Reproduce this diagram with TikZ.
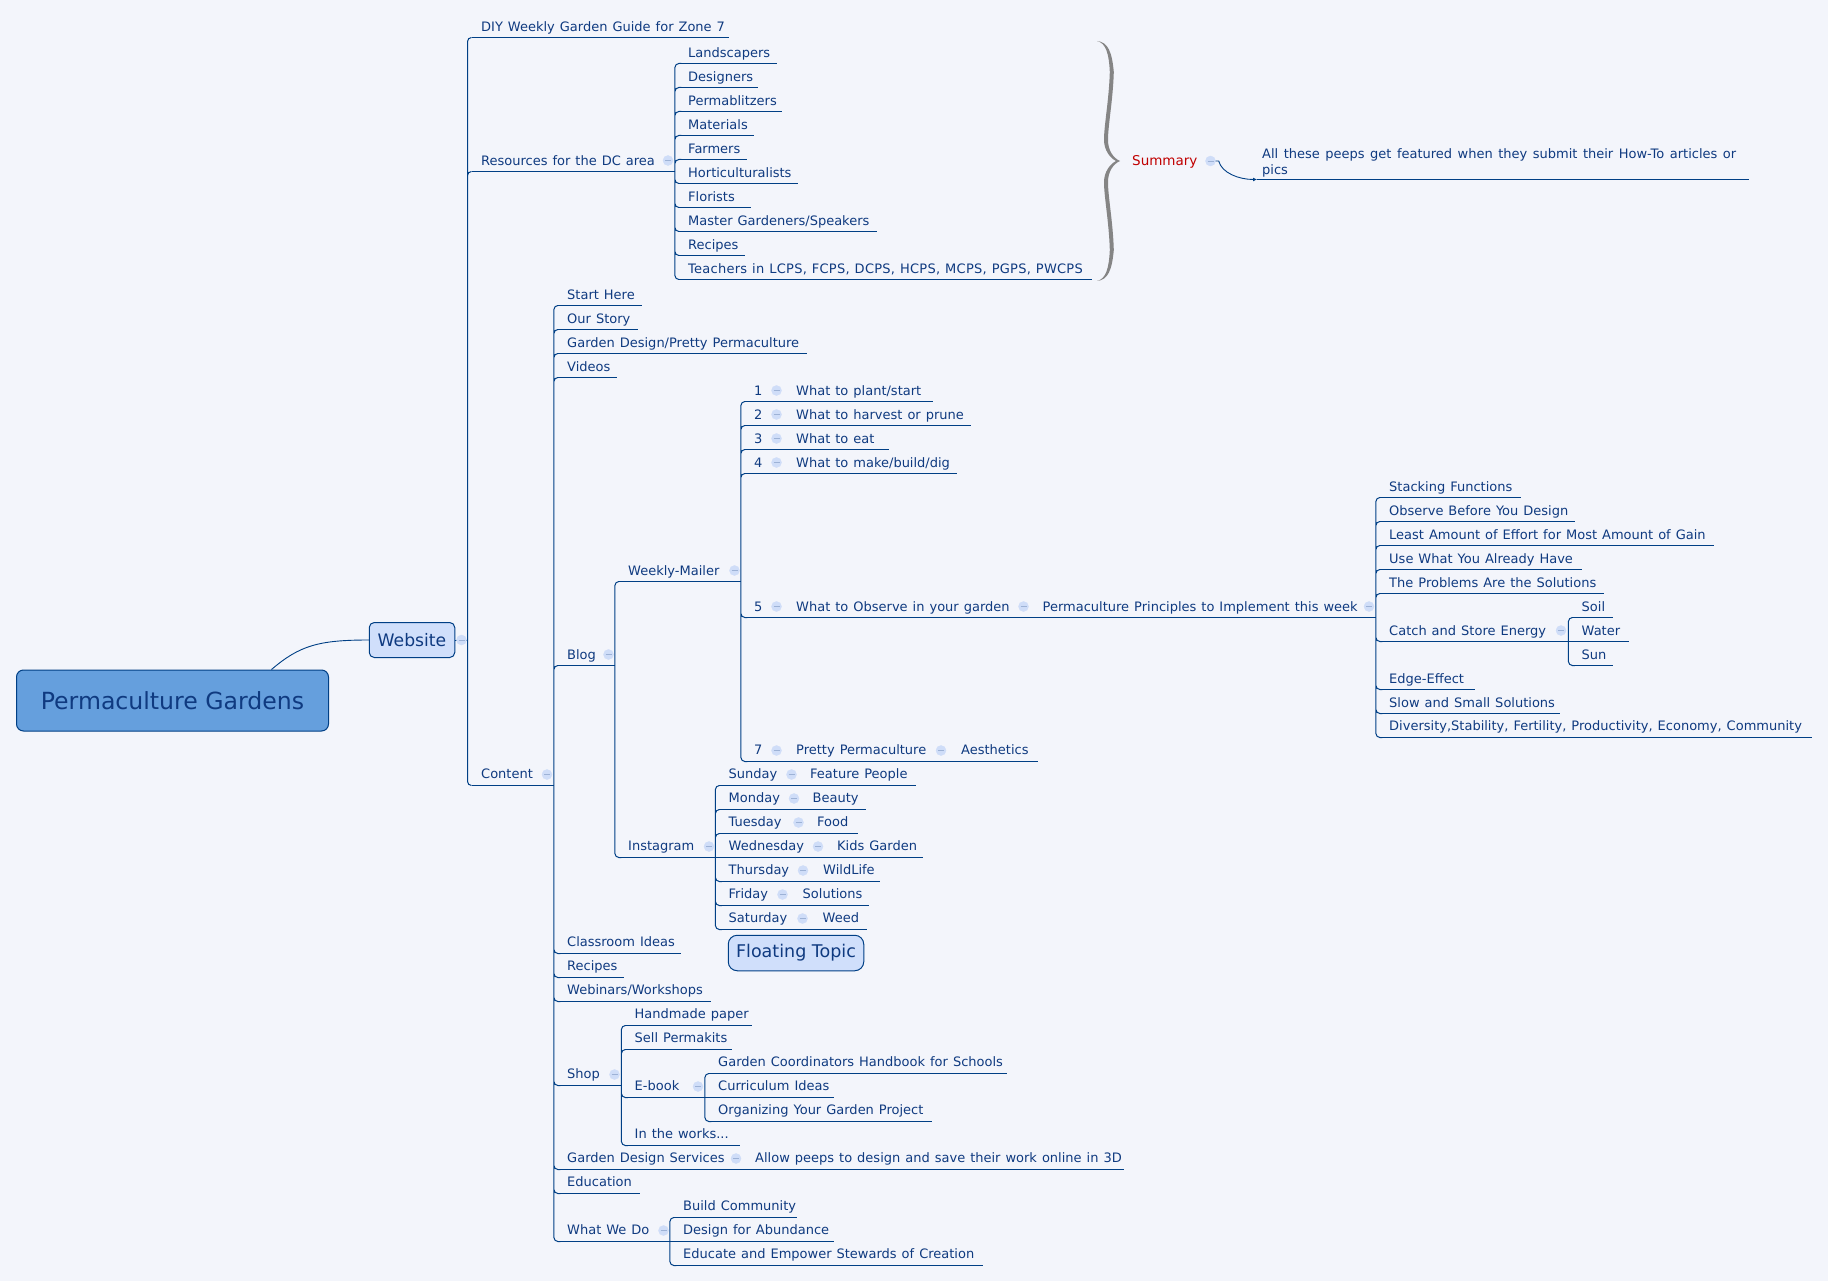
\documentclass[tikz,border=0pt]{standalone}
\usepackage{fontspec}
\setmainfont{DejaVu Sans}
\usetikzlibrary{arrows.meta}
\definecolor{bgc}{HTML}{F3F5FB}
\definecolor{linec}{HTML}{003F85}
\definecolor{textc}{HTML}{0F3A80}
\definecolor{rootc}{HTML}{659FDD}
\definecolor{subc}{HTML}{D0DFFB}
\definecolor{foldc}{HTML}{CFDDF8}
\definecolor{foldl}{HTML}{9DB2D6}
\definecolor{bracec}{HTML}{858585}
\definecolor{sumc}{HTML}{C00000}
\newcommand{\tpfont}{\fontsize{13}{16}\selectfont}
\tikzset{
  x=1pt,y=-1pt,
  tp/.style={inner xsep=0pt,inner ysep=5.6pt,anchor=south west,align=left,text=textc,text depth=0pt,
    font=\tpfont},
  notebox/.style={inner xsep=0pt,inner ysep=2.5pt,anchor=south west,align=left,text=textc,
    font=\tpfont},
  underl/.style={draw=linec,line width=1pt},
  conn/.style={draw=linec,line width=1pt},
  bigbox/.style={draw=linec,line width=1pt,text=textc,inner sep=0pt},
  fold/.style={circle,fill=foldc,draw=foldc,line width=.4pt,minimum size=10pt,inner sep=0pt,
    path picture={\draw[foldl,line width=.8pt] ([xshift=-3pt]path picture bounding box.center) -- ([xshift=3pt]path picture bounding box.center);}},
}
\newcommand{\tp}[5]{%
  \pgfmathsetlengthmacro{\tw}{(#3-#2)*1pt}%
  \ifdim #4pt>730pt\def\ys{6.8pt}\else\def\ys{5.6pt}\fi
  \node[tp,text width=\tw,inner ysep=\ys] (#1) at (#2,#4) {\spaceskip=5pt\relax\hspace*{13.5pt}\mbox{#5}};
  \draw[underl] ([xshift=4pt]#1.south west) -- (#1.south east);}
\newcommand{\cn}[2]{\draw[conn,rounded corners=4pt] foreach \kid in {#2} {(#1.south east) |- ([xshift=4pt]\kid.south west)};}
\newcommand{\cs}[2]{\draw[conn] (#1.south east) -- ([xshift=4pt]#2.south west);}
\newcommand{\fd}[3]{\node[fold] (#1) at (#2,#3-11) {};}
\begin{document}
\begin{tikzpicture}
\useasboundingbox (0,0) rectangle (1828,1281);
\fill[bgc] (0,0) rectangle (1828,1281);
% central
\node[bigbox,fill=rootc,rounded corners=7pt,minimum width=312pt,minimum height=61pt,font=\fontsize{23.6}{28}\selectfont] (root) at (172.5,700.5) {Permaculture Gardens};
\node[bigbox,fill=subc,rounded corners=5pt,minimum width=85.5pt,minimum height=35pt,font=\fontsize{17.2}{20}\selectfont] (website) at (412,640) {Website};
\node[bigbox,fill=subc,rounded corners=9pt,minimum width=135.5pt,minimum height=35.5pt,font=\fontsize{17.5}{20}\selectfont] (floating) at (796,953) {Floating Topic};
\draw[conn,line width=.9pt] ([xshift=99pt]root.north) .. controls +(28,-24) and +(-50,0) .. (website.west);
\coordinate (tone) at (467.5,640);
\draw[conn] (website.east) -- (tone);
% level 1
\tp{diy}{467.5}{729}{37.5}{DIY Weekly Garden Guide for Zone 7}
\tp{res}{467.5}{674.5}{171.5}{Resources for the DC area}
\tp{content}{467.5}{553.5}{785.5}{Content}
\cn{tone}{diy,res,content}
% resources
\tp{ra}{674.5}{776.5}{63.5}{Landscapers}
\tp{rb}{674.5}{757.5}{87.5}{Designers}
\tp{rc}{674.5}{781.5}{111.5}{Permablitzers}
\tp{rd}{674.5}{753.5}{135.5}{Materials}
\tp{re}{674.5}{746.5}{159.5}{Farmers}
\tp{rf}{674.5}{797.5}{183.5}{Horticulturalists}
\tp{rg}{674.5}{751}{207.5}{Florists}
\tp{rh}{674.5}{877}{231.5}{Master Gardeners/Speakers}
\tp{ri}{674.5}{745}{255.5}{Recipes}
\tp{rj}{674.5}{1092}{279.5}{\addfontfeatures{LetterSpace=2}Teachers in LCPS, FCPS, DCPS, HCPS, MCPS, PGPS, PWCPS}
\cn{res}{ra,rb,rc,rd,re,rf,rg,rh,ri,rj}
% summary
\fill[bracec] (1097,41) .. controls (1108,42) and (1112,52) .. (1113.8,72)
  .. controls (1113,100) and (1108,125) .. (1108,140) .. controls (1108,150) and (1113,158) .. (1120,161)
  .. controls (1113,164) and (1108,172) .. (1108,182) .. controls (1108,197) and (1113,222) .. (1113.8,250)
  .. controls (1112,270) and (1108,280) .. (1097,281)
  .. controls (1106,279) and (1109,268) .. (1109.8,250)
  .. controls (1109,222) and (1104,197) .. (1104,182) .. controls (1104,172) and (1110,164) .. (1116,161)
  .. controls (1110,158) and (1104,150) .. (1104,140) .. controls (1104,125) and (1109,100) .. (1109.8,72)
  .. controls (1109,54) and (1106,43) .. (1097,41) -- cycle;
\node[anchor=west,inner sep=0pt,text=sumc,font=\fontsize{13.5}{18}\selectfont] (summary) at (1132,162) {Summary};
\node[notebox,text width=491.5pt] (note) at (1257,179.5) {\spaceskip=5.5pt\relax\hspace*{5pt}All these peeps get featured when they submit their How-To articles or\\\hspace*{5pt}pics};
\draw[underl] (note.south west) -- (note.south east);
% content
\tp{ca}{553.5}{642}{305.5}{Start Here}
\tp{cb}{553.5}{638}{329.5}{Our Story}
\tp{cc}{553.5}{807}{353.5}{Garden Design/Pretty Permaculture}
\tp{cd}{553.5}{617}{377.5}{Videos}
\tp{blog}{553.5}{614.5}{665.5}{Blog}
\tp{ce}{553.5}{681}{953.5}{Classroom Ideas}
\tp{cf}{553.5}{624}{977.5}{Recipes}
\tp{cg}{553.5}{711}{1001.5}{Webinars/Workshops}
\tp{shop}{553.5}{621}{1085.5}{Shop}
\tp{gds}{553.5}{728}{1169.5}{Garden Design Services}
\tp{edu}{553.5}{640}{1193.5}{Education}
\tp{wwd}{553.5}{669.5}{1241.5}{What We Do}
\cn{content}{ca,cb,cc,cd,blog,ce,cf,cg,shop,gds,edu,wwd}
\tp{gdsa}{741.5}{1124}{1169.5}{Allow peeps to design and save their work online in 3D}
\cs{gds}{gdsa}
% blog
\tp{weekly}{614.5}{740.5}{581.5}{Weekly-Mailer}
\tp{insta}{614.5}{715}{857.5}{Instagram}
\cn{blog}{weekly,insta}
% weekly
\tp{wa}{740.5}{770}{401.5}{1}
\tp{wb}{740.5}{770}{425.5}{2}
\tp{wc}{740.5}{770}{449.5}{3}
\tp{wd}{740.5}{770}{473.5}{4}
\tp{we}{740.5}{770}{617.5}{5}
\tp{wg}{740.5}{770}{761.5}{7}
\cn{weekly}{wa,wb,wc,wd,we,wg}
\tp{waa}{782.5}{933}{401.5}{What to plant/start}
\tp{wba}{782.5}{971}{425.5}{What to harvest or prune}
\tp{wca}{782.5}{888.5}{449.5}{What to eat}
\tp{wda}{782.5}{957}{473.5}{What to make/build/dig}
\tp{wea}{782.5}{1015}{617.5}{What to Observe in your garden}
\tp{weaa}{1029}{1375.5}{617.5}{Permaculture Principles to Implement this week}
\tp{wga}{782.5}{935}{761.5}{Pretty Permaculture}
\tp{wgaa}{947.5}{1037.5}{761.5}{Aesthetics}
\cs{wa}{waa}\cs{wb}{wba}\cs{wc}{wca}\cs{wd}{wda}\cs{we}{wea}\cs{wea}{weaa}\cs{wg}{wga}\cs{wga}{wgaa}
% principles
\tp{pa}{1375.5}{1521}{497.5}{Stacking Functions}
\tp{pb}{1375.5}{1575}{521.5}{Observe Before You Design}
\tp{pc}{1375.5}{1714}{545.5}{Least Amount of Effort for Most Amount of Gain}
\tp{pd}{1375.5}{1582}{569.5}{Use What You Already Have}
\tp{pe}{1375.5}{1604}{593.5}{The Problems Are the Solutions}
\tp{pf}{1375.5}{1568}{641.5}{Catch and Store Energy}
\tp{pg}{1375.5}{1475}{689.5}{Edge-Effect}
\tp{ph}{1375.5}{1560}{713.5}{Slow and Small Solutions}
\tp{pi}{1375.5}{1812}{737.5}{Diversity,Stability, Fertility, Productivity, Economy, Community}
\cn{weaa}{pa,pb,pc,pd,pe,pf,pg,ph,pi}
\tp{pfa}{1568}{1613}{617.5}{Soil}
\tp{pfb}{1568}{1629}{641.5}{Water}
\tp{pfc}{1568}{1613}{665.5}{Sun}
\cn{pf}{pfa,pfc}\cs{pf}{pfb}
% instagram
\tp{ia}{715}{785}{785.5}{Sunday}
\tp{ib}{715}{788}{809.5}{Monday}
\tp{ic}{715}{792}{833.5}{Tuesday}
\tp{id}{715}{812}{857.5}{Wednesday}
\tp{ie}{715}{797}{881.5}{Thursday}
\tp{if}{715}{776}{905.5}{Friday}
\tp{ig}{715}{796}{929.5}{Saturday}
\cn{insta}{ia,ib,ic,ie,if,ig}\cs{insta}{id}
\tp{iaa}{796.5}{916}{785.5}{Feature People}
\tp{iba}{799}{866}{809.5}{Beauty}
\tp{ica}{803.5}{858}{833.5}{Food}
\tp{ida}{823.5}{923}{857.5}{Kids Garden}
\tp{iea}{809.5}{880}{881.5}{WildLife}
\tp{ifa}{789}{868.5}{905.5}{Solutions}
\tp{iga}{809}{866.5}{929.5}{Weed}
\cs{ia}{iaa}\cs{ib}{iba}\cs{ic}{ica}\cs{id}{ida}\cs{ie}{iea}\cs{if}{ifa}\cs{ig}{iga}
% shop
\tp{sa}{621}{751.5}{1025.5}{Handmade paper}
\tp{sb}{621}{731.5}{1049.5}{Sell Permakits}
\tp{sc}{621}{704.5}{1097.5}{E-book}
\tp{sd}{621}{740}{1145.5}{In the works...}
\cn{shop}{sa,sb,sc,sd}
\tp{sca}{704.5}{1006.5}{1073.5}{Garden Coordinators Handbook for Schools}
\tp{scb}{704.5}{833.5}{1097.5}{Curriculum Ideas}
\tp{scc}{704.5}{931.5}{1121.5}{Organizing Your Garden Project}
\cn{sc}{sca,scc}\cs{sc}{scb}
% what we do
\tp{wwa}{669.5}{797}{1217.5}{Build Community}
\tp{wwb}{669.5}{833.5}{1241.5}{Design for Abundance}
\tp{wwc}{669.5}{983}{1265.5}{Educate and Empower Stewards of Creation}
\cn{wwd}{wwa,wwc}\cs{wwd}{wwb}
% fold markers
\node[fold] (fweb) at (461.5,640) {};
\fd{fres}{668}{171.5}
\fd{fcont}{547}{785.5}
\fd{fsum}{1210.5}{172}
\fd{fblog}{608.5}{665.5}
\fd{fgds}{736}{1169.5}
\fd{fwm}{734.5}{581.5}
\fd{fins}{709}{857.5}
\fd{fa}{776.5}{401.5}
\fd{fb}{776.5}{425.5}
\fd{fc}{776.5}{449.5}
\fd{fd}{776.5}{473.5}
\fd{fe}{776.5}{617.5}
\fd{feb}{1023.5}{617.5}
\fd{fec}{1369}{617.5}
\fd{fg}{776.5}{761.5}
\fd{fgb}{941}{761.5}
\fd{fpf}{1561}{641.5}
\fd{fia}{791.5}{785.5}
\fd{fib}{794}{809.5}
\fd{fic}{798.5}{833.5}
\fd{fid}{818}{857.5}
\fd{fie}{803}{881.5}
\fd{fif}{782.5}{905.5}
\fd{fig}{802.5}{929.5}
\fd{fsh}{614.5}{1085.5}
\fd{fsc}{698}{1097.5}
\fd{fww}{663.5}{1241.5}
\draw[conn,line width=.9pt,-{Latex[length=4pt,width=4pt]}] (fsum.east) -- ++(3,0) .. controls +(3,12) and +(-18,0) .. (note.south west);
\end{tikzpicture}
\end{document}
